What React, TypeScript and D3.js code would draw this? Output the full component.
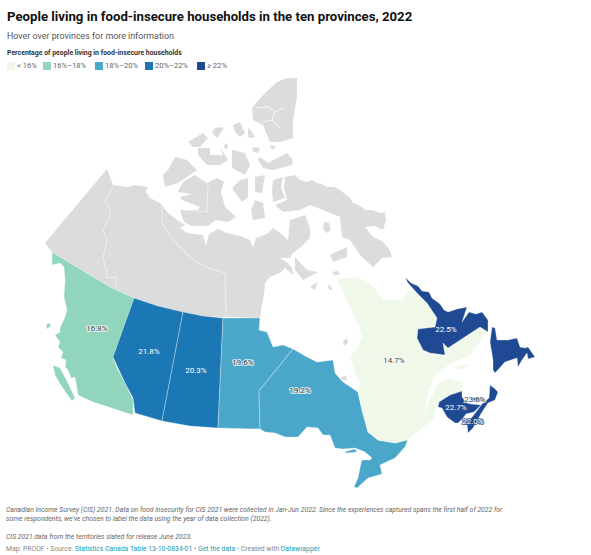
import { useEffect, useRef } from "react";
import * as d3 from "d3";

type Pt = [number, number];

const provinces = ["BC", "AB", "SK", "MB", "ON", "QC", "NL", "NB", "NS", "PE"];
const rates = [16.8, 21.8, 20.3, 19.6, 19.2, 14.7, 22.5, 22.7, 22.0, 23.6];
const thresholds = [16, 18, 20, 22];
const binColors = ["#eff8e9", "#92d5bd", "#4aa7ca", "#1c78b5", "#1f4a93"];
const binLabels = ["< 16%", "16%–18%", "18%–20%", "20%–22%", "≥ 22%"];

// outlines, in map units
const outlines: Record<string, Pt[][]> = {
  BC: [
    [[52, 252], [70, 263], [90, 275], [110, 287], [134, 298], [113, 358], [118, 370], [125, 383], [133, 400], [133, 415], [93, 402], [78, 395], [75, 377], [71, 378], [68, 370], [65, 367], [66, 360], [61, 358], [63, 352], [58, 347], [60, 342], [55, 335], [60, 332], [60, 328], [65, 317], [67, 310], [64, 297], [65, 280], [64, 267], [60, 263], [52, 265]],
    [[53, 365], [60, 368], [68, 383], [75, 398], [72, 401], [62, 387], [55, 375]],
    [[46, 325], [50, 323], [51, 326], [47, 329]],
  ],
  AB: [[[134, 298], [158, 306], [183, 312], [162, 421], [135, 413], [133, 398], [125, 383], [118, 368], [113, 357]]],
  SK: [[[183, 312], [203, 316], [223, 318], [218, 428], [190, 426], [162, 421]]],
  MB: [[[223, 318], [260, 318], [259, 330], [267, 332], [273, 347], [283, 345], [293, 349], [259, 391], [260, 429], [218, 428]]],
  ON: [
    [[293, 349], [307, 357], [317, 362], [333, 360], [335, 373], [343, 382], [358, 392], [362, 410], [368, 432], [378, 440], [395, 443], [408, 439], [405, 447], [395, 458], [380, 465], [382, 474], [368, 478], [357, 488], [354, 487], [358, 478], [361, 463], [362, 460], [370, 460], [372, 458], [365, 452], [355, 448], [343, 449], [335, 448], [330, 435], [323, 435], [318, 428], [307, 427], [298, 437], [285, 437], [275, 433], [265, 432], [260, 429], [259, 391]],
    [[344, 452], [355, 449], [357, 452], [347, 453]],
  ],
  QC: [
    [[337, 279], [357, 277], [370, 283], [378, 293], [383, 300], [402, 300], [408, 290], [417, 293], [427, 303], [437, 318], [435, 327], [418, 329], [417, 338], [423, 350], [430, 353], [445, 355], [443, 343], [448, 348], [480, 327], [487, 332], [470, 355], [452, 363], [435, 375], [427, 397], [425, 413], [430, 400], [438, 383], [450, 378], [463, 383], [462, 391], [450, 395], [438, 403], [433, 420], [420, 430], [408, 440], [395, 443], [378, 440], [368, 432], [362, 410], [358, 392], [360, 383], [355, 373], [350, 357], [358, 347], [362, 337], [358, 323], [350, 307], [342, 290]],
    [[452, 367], [470, 364], [462, 370]],
  ],
  NL: [
    [[405, 277], [411, 283], [418, 286], [422, 291], [429, 292], [432, 298], [440, 304], [444, 310], [448, 312], [457, 309], [467, 307], [462, 322], [469, 312], [476, 314], [482, 312], [488, 320], [488, 332], [480, 327], [448, 348], [443, 343], [445, 355], [430, 353], [423, 350], [417, 338], [418, 329], [435, 327], [437, 318], [427, 303], [417, 293], [408, 283]],
    [[492, 327], [495, 328], [497, 340], [508, 340], [517, 338], [520, 347], [525, 348], [528, 347], [535, 357], [528, 359], [527, 353], [522, 360], [518, 367], [517, 358], [505, 362], [495, 373], [493, 370], [493, 360], [490, 342]],
  ],
  NB: [[[438, 407], [439, 402], [450, 395], [462, 391], [462, 397], [467, 403], [471, 404], [481, 405], [474, 412], [466, 414], [463, 418], [458, 423], [455, 423], [447, 417], [442, 408]]],
  NS: [[[467, 423], [473, 416], [482, 404], [489, 398], [490, 385], [494, 388], [498, 392], [495, 400], [488, 403], [482, 412], [473, 428], [468, 433]]],
  PE: [[[470, 398], [480, 397], [485, 401], [475, 402]]],
};

const territoriesOutline: Pt[][] = [
  [[45, 243], [107, 169], [113, 185], [120, 186], [127, 187], [135, 185], [148, 187], [146, 192], [150, 198], [160, 203], [168, 213], [176, 219], [185, 225], [180, 228], [187, 233], [203, 235], [206, 246], [209, 234], [218, 229], [227, 233], [240, 236], [250, 240], [253, 248], [256, 238], [267, 234], [273, 228], [280, 233], [288, 240], [290, 220], [305, 215], [310, 228], [310, 238], [303, 245], [297, 250], [292, 254], [290, 258], [280, 258], [288, 263], [292, 268], [293, 275], [285, 268], [280, 273], [270, 277], [265, 283], [264, 295], [262, 305], [260, 318], [223, 317], [203, 316], [183, 313], [158, 306], [134, 298], [110, 287], [90, 275], [70, 263], [52, 252]],
];

const islands: Pt[][] = [
  // Banks, Victoria, central arctic
  [[175, 157], [187, 160], [197, 170], [187, 177], [178, 183], [165, 187], [163, 175], [168, 170]],
  [[180, 187], [183, 182], [195, 175], [207, 183], [217, 178], [224, 182], [221, 192], [225, 207], [236, 217], [228, 222], [216, 220], [208, 226], [192, 226], [184, 222], [180, 210], [198, 210], [200, 207], [182, 200], [180, 197], [192, 194], [178, 192]],
  [[233, 187], [240, 180], [248, 178], [248, 197], [242, 202], [233, 190]],
  [[255, 177], [265, 175], [262, 193], [255, 192]],
  [[255, 200], [263, 203], [265, 218], [253, 220], [251, 210]],
  [[295, 257], [307, 270], [318, 272], [303, 280], [295, 270]],
  // Baffin
  [[273, 180], [283, 177], [281, 187], [285, 198], [273, 202], [272, 190]],
  [[285, 177], [295, 175], [300, 180], [307, 182], [312, 180], [317, 183], [322, 184], [327, 187], [334, 187], [340, 190], [345, 194], [350, 198], [353, 203], [359, 205], [365, 210], [372, 210], [380, 213], [385, 212], [386, 220], [383, 230], [375, 226], [365, 227], [373, 237], [382, 241], [390, 250], [392, 257], [382, 258], [373, 267], [360, 255], [350, 240], [342, 237], [340, 217], [323, 210], [310, 205], [300, 210], [283, 212], [275, 205], [287, 200], [284, 188]],
  [[330, 255], [347, 247], [347, 257], [333, 262]],
  [[324, 222], [329, 223], [331, 230], [327, 233], [323, 229]],
  [[332, 272], [338, 271], [340, 275], [334, 275]],
  [[310, 287], [318, 282], [315, 290]],
  [[328, 285], [331, 286], [332, 290], [329, 290]],
  [[343, 341], [347, 338], [348, 343], [344, 346]],
  [[341, 377], [346, 376], [347, 380], [342, 380]],
  // Queen Elizabeth islands
  [[297, 78], [287, 78], [277, 82], [265, 93], [257, 102], [252, 108], [253, 120], [263, 125], [267, 135], [270, 142], [280, 142], [293, 138], [293, 120], [297, 97]],
  [[260, 157], [268, 163], [287, 153], [293, 160], [292, 165], [273, 170], [263, 168], [258, 160]],
  [[252, 147], [260, 148], [258, 153], [253, 152]],
  [[188, 142], [203, 133], [208, 138], [200, 147], [193, 147]],
  [[198, 148], [210, 148], [210, 155], [223, 155], [220, 147], [228, 160], [220, 165], [207, 165], [198, 155]],
  [[232, 150], [245, 153], [250, 165], [245, 175], [232, 168]],
  [[233, 125], [240, 122], [245, 133], [240, 137], [235, 132]],
  [[248, 128], [253, 133], [253, 138], [248, 137]],
  [[215, 128], [223, 127], [223, 130], [217, 138], [212, 133]],
  [[250, 130], [255, 137], [252, 138]],
  [[225, 143], [228, 145], [227, 150], [224, 148]],
  [[270, 145], [276, 147], [272, 150]],
];

const boundaries: Pt[][] = [
  [[113, 187], [105, 200], [110, 210], [110, 218], [103, 230], [107, 240], [103, 257], [107, 273], [106, 278], [116, 277], [116, 288]],
  [[162, 207], [162, 223], [173, 240], [190, 257], [205, 267], [225, 273], [226, 317]],
  [[183, 210], [207, 212], [208, 185]],
];

// open water cut through the big islands
const channels: Pt[][] = [
  [[257, 108], [268, 107], [275, 112], [283, 108]],
  [[275, 112], [272, 120], [263, 122]],
  [[272, 120], [280, 128]],
];

const labelAt: Record<string, Pt> = {
  BC: [97, 328], AB: [149, 351], SK: [196, 370], MB: [243, 362], ON: [300, 390],
  QC: [394, 360], NL: [446, 329], NB: [456, 407], NS: [473, 421], PE: [475, 399],
};
const darkText = ["BC", "MB", "ON", "QC", "PE"];

const title = "People living in food-insecure households in the ten provinces, 2022";
const subtitle = "Hover over provinces for more information";
const legendTitle = "Percentage of people living in food-insecure households";
const notes = [
  "Canadian Income Survey (CIS) 2021. Data on food insecurity for CIS 2021 were collected in Jan-Jun 2022. Since the experiences captured spans the first half of 2022 for",
  "some respondents, we've chosen to label the data using the year of data collection (2022).",
  "",
  "CIS 2021 data from the territories slated for release June 2023.",
];
const source: [string, boolean][] = [
  ["Map: PROOF • Source: ", false],
  ["Statistics Canada Table 13-10-0834-01", true],
  [" • ", false],
  ["Get the data", true],
  [" • Created with ", false],
  ["Datawrapper", true],
];

export default function App() {
  const ref = useRef<SVGSVGElement>(null);

  useEffect(() => {
    if (!ref.current) return;
    const svg = d3.select(ref.current);
    svg.selectAll("*").remove();
    svg.style("font-family", "Roboto, sans-serif");

    const color = d3.scaleThreshold<number, string>().domain(thresholds).range(binColors);
    const path = d3.geoPath(d3.geoIdentity());
    const closed = (r: Pt[]) => [...r, r[0]];

    svg.append("text").attr("x", 7).attr("y", 20.5).attr("font-size", 13.2).attr("font-weight", 700)
      .attr("fill", "#111").text(title);
    svg.append("text").attr("x", 7).attr("y", 38.5).attr("font-size", 8.9).attr("fill", "#555").text(subtitle);
    svg.append("text").attr("x", 7).attr("y", 55).attr("font-size", 6.9).attr("font-weight", 700)
      .attr("fill", "#333").text(legendTitle);

    // legend
    const legendX = [7, 43, 95, 145, 197];
    const legend = svg.append("g");
    binLabels.forEach((lab, i) => {
      legend.append("rect").attr("x", legendX[i]).attr("y", 62).attr("width", 8).attr("height", 8)
        .attr("fill", binColors[i]);
      legend.append("text").attr("x", legendX[i] + 10).attr("y", 67.5).attr("font-size", 7.6)
        .attr("fill", "#666").text(lab);
    });

    // territories, no data
    const map = svg.append("g");
    [...territoriesOutline, ...islands].forEach((ring) => {
      map.append("path")
        .attr("d", path({ type: "Polygon", coordinates: [closed(ring)] } as any)!)
        .attr("fill", "#dcdcdc");
    });
    map.append("path")
      .attr("d", path({ type: "MultiLineString", coordinates: boundaries } as any)!)
      .attr("fill", "none").attr("stroke", "#fff").attr("stroke-width", 0.5);
    map.append("path")
      .attr("d", path({ type: "MultiLineString", coordinates: channels } as any)!)
      .attr("fill", "none").attr("stroke", "#fff").attr("stroke-width", 0.8);

    provinces.forEach((p, i) => {
      map.append("path")
        .attr("d", path({ type: "MultiPolygon", coordinates: outlines[p].map((r) => [closed(r)]) } as any)!)
        .attr("fill", color(rates[i]))
        .attr("stroke", "#fff").attr("stroke-opacity", 0.6).attr("stroke-width", 0.5);
    });

    // value labels
    provinces.forEach((p, i) => {
      const dark = darkText.includes(p);
      svg.append("text").attr("x", labelAt[p][0]).attr("y", labelAt[p][1] + 3)
        .attr("text-anchor", "middle").attr("font-size", 8)
        .attr("fill", dark ? "#444" : "#fff")
        .attr("stroke", dark ? "#fff" : color(rates[i]))
        .attr("stroke-opacity", 0.75).attr("stroke-width", 2)
        .style("paint-order", "stroke")
        .text(`${rates[i].toFixed(1)}%`);
    });

    // notes
    notes.forEach((line, i) => {
      svg.append("text").attr("x", 6).attr("y", 512 + i * 9).attr("font-size", 6.85)
        .attr("font-style", "italic").attr("fill", "#666").text(line);
    });

    const src = svg.append("text").attr("x", 6).attr("y", 551).attr("font-size", 6.85);
    source.forEach(([t, link]) => {
      src.append("tspan").attr("fill", link ? "#1b9ab5" : "#888").text(t);
    });
  }, []);

  return (
    <svg ref={ref} width={591} height={555}
      style={{ position: "absolute", left: 0, top: 0, background: "#fff" }} />
  );
}
